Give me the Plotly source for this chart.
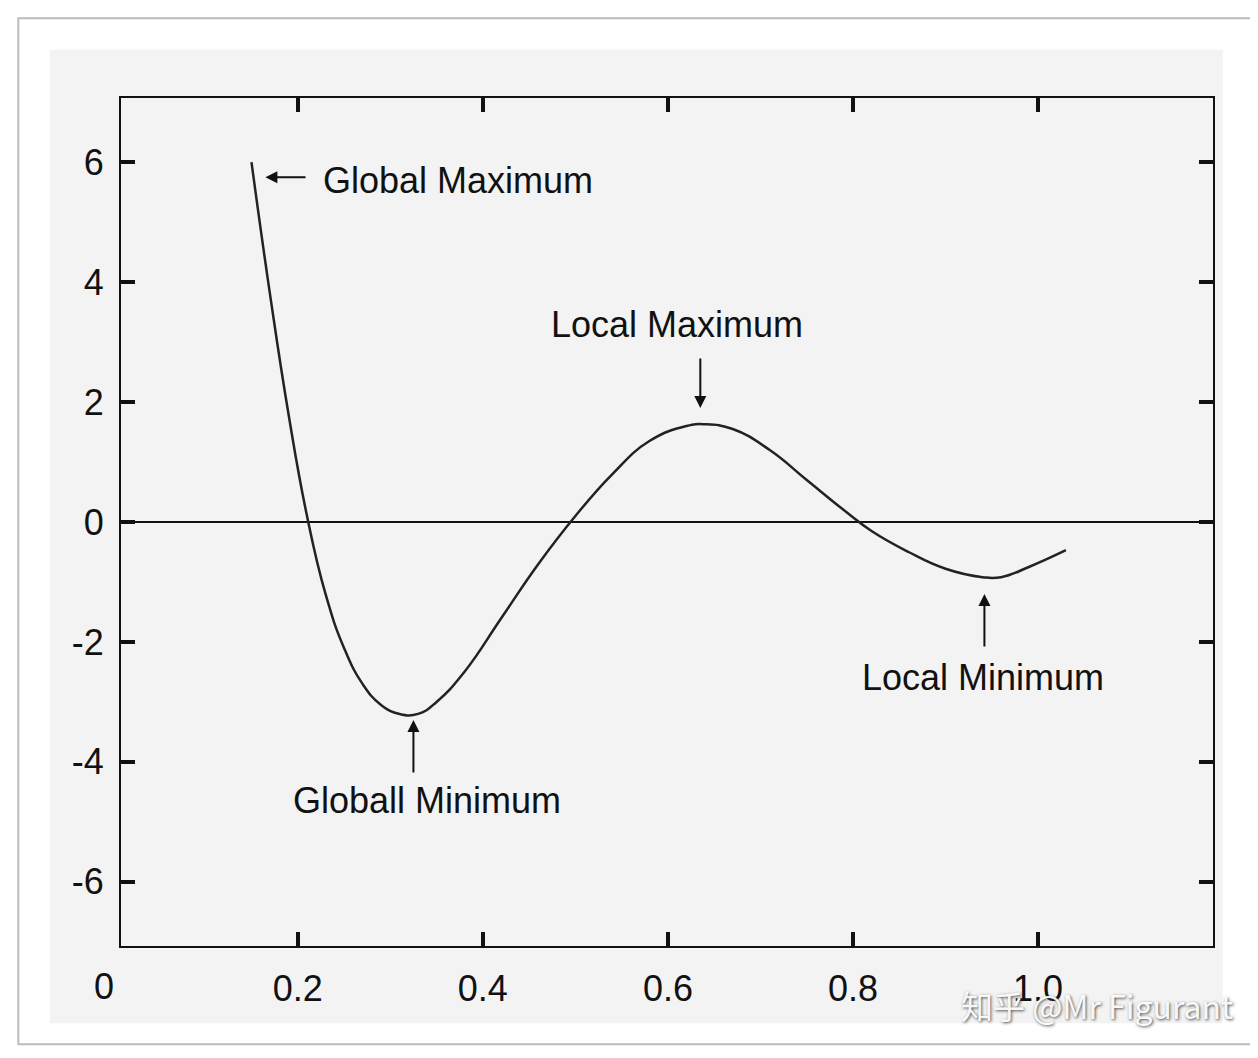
import plotly.graph_objects as go

x_vals = [0.15,0.17,0.19,0.21,0.23,0.25,0.27,0.29,0.31,0.33,0.35,0.38,0.42,0.46,0.50,0.54,0.58,0.62,0.64,0.67,0.71,0.75,0.79,0.82,0.86,0.90,0.94,0.96,0.99,1.03]
y_vals = [6.0,3.8,1.8,0.1,-1.2,-2.1,-2.7,-3.05,-3.2,-3.2,-3.0,-2.5,-1.6,-0.7,0.1,0.8,1.35,1.6,1.63,1.55,1.2,0.7,0.2,-0.15,-0.5,-0.78,-0.92,-0.92,-0.75,-0.47]
x_ticks = [0.2, 0.4, 0.6, 0.8, 1.0]
x_labels = ["0.2", "0.4", "0.6", "0.8", "1.0"]
y_ticks = [6, 4, 2, 0, -2, -4, -6]
y_labels = ["6", "4", "2", "0", "-2", "-4", "-6"]

font = dict(family="Liberation Sans, Arial", size=36, color="#111")
fig = go.Figure()
fig.add_trace(go.Scatter(x=x_vals, y=y_vals, mode="lines", line=dict(color="#222", width=2.5, shape="spline", smoothing=1.3), showlegend=False))

fig.update_layout(
    width=1258, height=1058, margin=dict(l=113, r=53, t=90, b=120),
    paper_bgcolor="white", plot_bgcolor="#f3f3f3",
    xaxis=dict(range=[0.009, 1.189], tickvals=x_ticks, ticktext=x_labels, ticks="inside", ticklen=14, tickwidth=4,
               tickcolor="#111", showline=True, linecolor="#111", linewidth=2, mirror="ticks", showgrid=False,
               zeroline=False, tickfont=font, automargin=False, ticklabelstandoff=10),
    yaxis=dict(range=[-7.07, 7.07], tickvals=y_ticks, ticktext=y_labels, ticks="inside", ticklen=14, tickwidth=4, tickcolor="#111",
               showline=True, linecolor="#111", linewidth=2, mirror="ticks", showgrid=False,
               zeroline=True, zerolinecolor="#111", zerolinewidth=2, tickfont=font, automargin=False,
               ticklabelstandoff=8),
    shapes=[
        dict(type="rect", xref="paper", yref="paper", x0=-0.065, x1=1.009, y0=-0.091, y1=1.057, layer="below",
             fillcolor="#f3f3f3", line=dict(width=0)),
        dict(type="rect", xref="paper", yref="paper", x0=-0.094, x1=1.036, y0=-0.116, y1=1.094, layer="below",
             fillcolor="rgba(0,0,0,0)", line=dict(color="#bbb", width=2)),
    ],
)

fig.add_annotation(x=0.009, y=-7.07, xref="x", yref="y", text="0", showarrow=False, font=font,
                   xanchor="right", yanchor="top", yshift=-18, xshift=-5)
fig.add_annotation(x=0.165, y=5.75, ax=0.21, ay=5.75, axref="x", ayref="y", text="", showarrow=True,
                   arrowhead=2, arrowsize=1.2, arrowwidth=2, arrowcolor="#111")
fig.add_annotation(x=0.225, y=5.7, text="Global Maximum", showarrow=False, font=font, xanchor="left")
fig.add_annotation(x=0.635, y=1.9, ax=0.635, ay=2.75, axref="x", ayref="y", text="", showarrow=True,
                   arrowhead=2, arrowsize=1.2, arrowwidth=2, arrowcolor="#111")
fig.add_annotation(x=0.61, y=3.3, text="Local Maximum", showarrow=False, font=font)
fig.add_annotation(x=0.325, y=-3.3, ax=0.325, ay=-4.2, axref="x", ayref="y", text="", showarrow=True,
                   arrowhead=2, arrowsize=1.2, arrowwidth=2, arrowcolor="#111")
fig.add_annotation(x=0.34, y=-4.65, text="Globall Minimum", showarrow=False, font=font)
fig.add_annotation(x=0.942, y=-1.2, ax=0.942, ay=-2.1, axref="x", ayref="y", text="", showarrow=True,
                   arrowhead=2, arrowsize=1.2, arrowwidth=2, arrowcolor="#111")
fig.add_annotation(x=0.94, y=-2.6, text="Local Minimum", showarrow=False, font=font)
fig.add_annotation(xref="paper", yref="paper", x=1.02, y=-0.07, xanchor="right", yanchor="middle",
                   text="知乎 @Mr Figurant", showarrow=False,
                   font=dict(family="Noto Sans CJK SC", size=32, color="rgba(255,255,255,0.95)",
                             shadow="1px 1px 3px #444"))

fig.write_html("out.html")
